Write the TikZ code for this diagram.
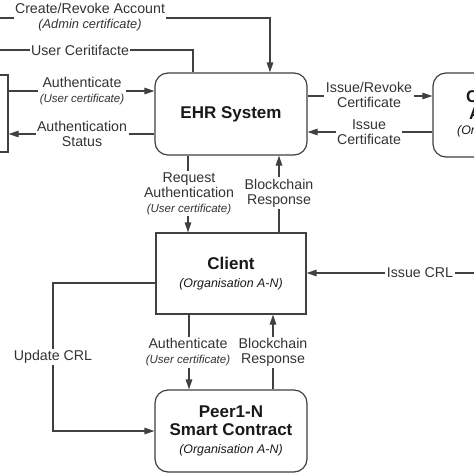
\documentclass[tikz,border=0pt]{standalone}
\usepackage{fontspec}
\setmainfont{Liberation Sans}
\usetikzlibrary{arrows.meta,calc}
\newcommand\lblit{\fontsize{11.5}{13}\selectfont\itshape}
\newcommand\lbladm{\fontsize{12.8}{14}\selectfont\itshape}
\newcommand\boxit{\fontsize{12.4}{14}\selectfont\itshape\mdseries}
\begin{document}
\begin{tikzpicture}[x=1pt,y=-1pt,
  line/.style={draw=black!75, line width=1.2pt},
  arr/.style={line, -{Triangle[length=10pt,width=6.5pt]}},
  lbl/.style={fill=white, inner sep=1.5pt, align=center, font=\fontsize{14.2}{15}\selectfont, text=black!80},
  boxr/.style={draw=black!75, line width=1.2pt, rounded corners=13pt, minimum width=152pt, minimum height=82pt, align=center, font=\fontsize{17}{17.5}\selectfont\bfseries, text=black!90},
  boxs/.style={draw=black!75, line width=1.2pt, minimum width=150pt, minimum height=81pt, align=center, font=\fontsize{17}{17.5}\selectfont\bfseries, text=black!90}]
\useasboundingbox (0,0) rectangle (474,474);
\clip (0,0) rectangle (474,474);
\fill[white] (0,0) rectangle (474,474);
% boxes
\node[boxr] (ehr) at (231,114) {EHR System};
\node[boxs] (client) at (231,273.5) {Client\\[0.5pt]{\boxit (Organisation A-N)}};
\node[boxr] (peer) at (231,431) {Peer1-N\\Smart Contract\\[0.5pt]{\boxit (Organisation A-N)}};
\node[boxs, minimum width=100pt, minimum height=77pt] (left) at (-42,113.5) {};
\node[boxr, minimum width=156pt, minimum height=84pt] (ca) at (511,115) {};
\node[anchor=west, inner sep=0pt, font=\fontsize{17}{17.5}\selectfont\bfseries, text=black!90] (cat1) at (466,97) {C};
\node[anchor=west, inner sep=0pt, font=\fontsize{17}{17.5}\selectfont\bfseries, text=black!90] (cat2) at (469,114) {A};
\node[anchor=west, inner sep=0pt, font=\boxit, text=black!90] (cat3) at (457,131) {(Or};
% coordinates
\coordinate (f1) at (-5,18);
\coordinate (f2) at (-5,50);
\coordinate (f3) at (480,273);
\coordinate (cc) at (270,0);
\coordinate (cu) at (193,0);
\coordinate (r3) at (0,91);
\coordinate (r4) at (0,134);
\coordinate (r5) at (0,96);
\coordinate (r6) at (0,132);
\coordinate (c1) at (188,0);
\coordinate (c2) at (279,0);
\coordinate (c3) at (189,0);
\coordinate (c4) at (273,0);
\coordinate (r7) at (0,273);
\coordinate (r8) at (0,283);
\coordinate (cx) at (53,0);
% connectors
\draw[arr] (f1) -| (ehr.north -| cc);
\node[lbl] (l1) at (90,17.5) {Create/Revoke Account\\{\lbladm (Admin certificate)}};
\draw[line] (ehr.north -| cu) |- (f2);
\node[lbl] (l2) at (80,50) {User Ceritifacte};
\draw[arr] (left.east |- r3) -- (ehr.west |- r3);
\node[lbl] (l3) at (82,91) {Authenticate\\{\lblit (User certificate)}};
\draw[arr] (ehr.west |- r4) -- (left.east |- r4);
\node[lbl] (l4) at (82,134) {Authentication\\Status};
\draw[arr] (ehr.east |- r5) -- (ca.west |- r5);
\node[lbl] (l5) at (369,95) {Issue/Revoke\\Certificate};
\draw[arr] (ca.west |- r6) -- (ehr.east |- r6);
\node[lbl] (l6) at (369,132) {Issue\\Certificate};
\draw[arr] (ehr.south -| c1) -- (client.north -| c1);
\node[lbl] (l7) at (189,193.5) {Request\\Authentication\\{\lblit (User certificate)}};
\draw[arr] (client.north -| c2) -- (ehr.south -| c2);
\node[lbl] (l8) at (279,193) {Blockchain\\Response};
\draw[arr] (f3) -- (client.east |- r7);
\node[lbl] (l9) at (420,273) {Issue CRL};
\draw[arr] (client.west |- r8) -| (cx |- peer.west) -- (peer.west);
\node[lbl] (l10) at (53,357) {Update CRL};
\draw[arr] (client.south -| c3) -- (peer.north -| c3);
\node[lbl] (l11) at (188,352.5) {Authenticate\\{\lblit (User certificate)}};
\draw[arr] (peer.north -| c4) -- (client.south -| c4);
\node[lbl] (l12) at (273,352.5) {Blockchain\\Response};
\end{tikzpicture}
\end{document}
